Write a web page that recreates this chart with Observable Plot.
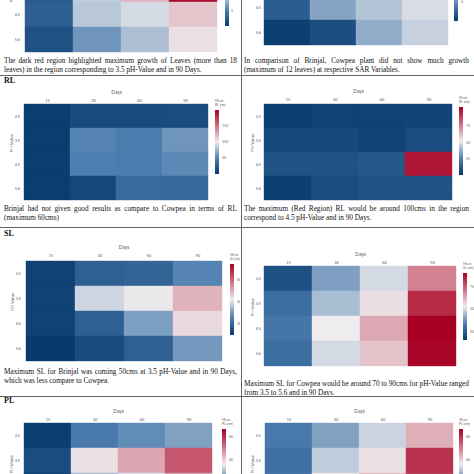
<!DOCTYPE html>
<html>
<head>
<meta charset="utf-8">
<script src="https://cdn.jsdelivr.net/npm/d3@7"></script>
<script src="https://cdn.jsdelivr.net/npm/@observablehq/plot@0.6"></script>
<style>
  body { margin: 0; background: #fff; }
  #page { position: relative; width: 474px; height: 474px; overflow: hidden; background: #fff; }
  .col { position: absolute; top: 0; height: 474px; overflow: hidden; }
  .cap { position: absolute; font-family: "Liberation Serif", "Times New Roman", serif; font-size: 7.25px; line-height: 9px; color: #111; }
  .cap .j { display: flex; justify-content: space-between; white-space: nowrap; }
  .cap .l { white-space: nowrap; }
  .head { position: absolute; font-family: "Liberation Serif", "Times New Roman", serif; font-weight: bold; font-size: 8px; line-height: 9px; color: #111; }
  .rule { position: absolute; background: #666; }
  .lg-title { position: absolute; font-family: Lato, "Open Sans", sans-serif; font-size: 3.4px; line-height: 4px; color: #666; white-space: nowrap; }
  .lg-tick { position: absolute; font-family: Lato, "Open Sans", sans-serif; font-size: 3.6px; line-height: 4px; color: #666; transform: translateY(-50%); white-space: nowrap; }
</style>
</head>
<body>
<div id="page"></div>
<script>
// Sampling days (columns) and soil pH levels (rows)
const days = ["15", "30", "60", "90"];
const phLevels = ["2.5", "3.5", "4.5", "5.6"];

// Mean number of leaves; one row per pH level, one column per day
const leavesBrinjal = [
  [2, 4, 6, 9],
  [3.2, 8.7, 12, 18.5],
  [3.4, 8.5, 9.3, 11.4],
  [2.5, 6.4, 8.1, 10.4]
];
const leavesCowpea = [
  [2, 5, 8, 10],
  [3, 6, 9, 12],
  [2.4, 4.7, 5.5, 6.1],
  [1.2, 1.8, 4.9, 5.8]
];
// Mean root length (cm)
const rlBrinjal = [
  [2, 12, 12, 13],
  [2, 52, 48, 60],
  [2, 50, 48, 54],
  [2, 10, 36, 34]
];
const rlCowpea = [
  [2, 3, 3, 4],
  [6, 6, 3, 7],
  [9.5, 9, 11.5, 100],
  [2, 7, 9, 9]
];
// Mean shoot length (cm)
const slBrinjal = [
  [12, 19, 20, 27],
  [12, 39, 42, 50],
  [12, 19, 31, 45],
  [10, 14, 19, 30]
];
const slCowpea = [
  [22, 40, 50, 69],
  [30, 45, 55, 83],
  [32, 53, 63, 90],
  [30, 50, 59, 89]
];
// Mean plant length (cm)
const plBrinjal = [
  [7, 20, 23, 26],
  [10, 38, 45, 55],
  [8, 30, 35, 45],
  [7, 20, 28, 35]
];
const plCowpea = [
  [20, 26, 33, 44],
  [18, 32, 38, 60],
  [19, 36, 42, 58],
  [17, 30, 40, 55]
];

// Colour-bar limits and labelled ticks
const leavesBrinjalRange = [1, 19], leavesBrinjalTicks = [15, 10, 5];
const leavesCowpeaRange = [1, 12], leavesCowpeaTicks = [12, 8, 4];
const rlBrinjalRange = [0, 200], rlBrinjalTicks = [150, 100, 50];
const rlCowpeaRange = [0, 105], rlCowpeaTicks = [75, 50, 25];
const slBrinjalRange = [10, 75], slBrinjalTicks = [60, 40, 20];
const slCowpeaRange = [16, 90], slCowpeaTicks = [75, 50, 25];
const plBrinjalRange = [6, 67], plBrinjalTicks = [60, 40, 20];
const plCowpeaRange = [6, 67], plCowpeaTicks = [60, 40, 20];

// Captions and section headings
const captions = {
  leavesBrinjal: ["The dark red region highlighted maximum growth of Leaves (more than 18", "leaves) in the region corresponding to 3.5 pH-Value and in 90 Days."],
  leavesCowpea: ["In comparison of Brinjal, Cowpea plant did not show much growth", "(maximum of 12 leaves) at respective SAR Variables."],
  rlBrinjal: ["Brinjal had not given good results as compare to Cowpea in terms of RL", "(maximum 60cms)"],
  rlCowpea: ["The maximum (Red Region) RL would be around 100cms in the region", "correspond to 4.5 pH-Value and in 90 Days."],
  slBrinjal: ["Maximum SL for Brinjal was coming 50cms at 3.5 pH-Value and in 90 Days,", "which was less compare to Cowpea."],
  slCowpea: ["Maximum SL for Cowpea would be around 70 to 90cms for pH-Value ranged", "from 3.5 to 5.6 and in 90 Days."]
};
const headings = ["RL", "SL", "PL"];

// Blue - white - red diverging ramp
const rampColors = ["#073a6d", "#4f7fb0", "#eeecee", "#cf6f82", "#a70022"];
const ramp = d3.piecewise(d3.interpolateRgb, rampColors);
const sans = "Lato, 'Open Sans', sans-serif";

const page = document.getElementById("page");
const cols = {
  L: {off: 0, el: makeCol(0, 240)},
  R: {off: 241, el: makeCol(241, 233)}
};

function makeCol(left, width) {
  const d = document.createElement("div");
  d.className = "col";
  d.style.left = left + "px";
  d.style.width = width + "px";
  page.appendChild(d);
  return d;
}

function heatmap(p) {
  const col = cols[p.col];
  const [x0, x1, y0, y1] = p.cell;
  const mL = 30, mT = 24, mR = 2, mB = 2;
  const rows = p.values.flatMap((row, i) => row.map((v, j) => ({ph: phLevels[i], day: days[j], value: v})));
  const svg = Plot.plot({
    width: x1 - x0 + mL + mR,
    height: y1 - y0 + mT + mB,
    marginLeft: mL, marginTop: mT, marginRight: mR, marginBottom: mB,
    style: {background: "transparent", fontFamily: sans, fontSize: "3.8px", color: "#555", overflow: "visible"},
    x: {domain: days, padding: 0, axis: "top", tickSize: 0, tickPadding: 2.2, label: null},
    y: {domain: phLevels, padding: 0, tickSize: 0, tickPadding: 3.5, label: null},
    color: {type: "linear", domain: p.range, interpolate: ramp, clamp: true},
    marks: [
      Plot.cell(rows, {x: "day", y: "ph", fill: "value", stroke: "value", strokeWidth: 0.4}),
      Plot.text(["Days"], {text: d => d, frameAnchor: "top", dy: -14, fontSize: 4.8, fill: "#555"}),
      Plot.text(["PH Value"], {text: d => d, frameAnchor: "left", dx: -12, rotate: -90, fontSize: 4.6, fill: "#555"})
    ]
  });
  svg.style.position = "absolute";
  svg.style.left = (x0 - mL - col.off) + "px";
  svg.style.top = (y0 - mT) + "px";
  svg.style.maxWidth = "none";
  col.el.appendChild(svg);

  // vertical colour bar
  const {x, w, top, bottom, labelX} = p.legend;
  const stops = d3.range(0, 1.0001, 0.1).map(t => `${ramp(t)} ${Math.round(t * 100)}%`).join(",");
  const bar = document.createElement("div");
  bar.style.cssText = `position:absolute;left:${x - col.off}px;top:${top}px;width:${w}px;height:${bottom - top}px;background:linear-gradient(to top, ${stops});`;
  col.el.appendChild(bar);
  const ys = d3.scaleLinear().domain(p.range).range([bottom, top]);
  for (const t of p.ticks) {
    const lab = document.createElement("div");
    lab.className = "lg-tick";
    lab.style.left = (labelX - col.off) + "px";
    lab.style.top = ys(t) + "px";
    lab.textContent = t;
    col.el.appendChild(lab);
  }
  const title = document.createElement("div");
  title.className = "lg-title";
  title.style.left = (x - col.off) + "px";
  title.style.top = (top - 11) + "px";
  title.innerHTML = `Mean<br>${p.unit}`;
  col.el.appendChild(title);
}

function caption(lines, colKey, x, y, width) {
  const col = cols[colKey];
  const box = document.createElement("div");
  box.className = "cap";
  box.style.left = (x - col.off) + "px";
  box.style.top = y + "px";
  box.style.width = width + "px";
  lines.forEach((line, i) => {
    const row = document.createElement("div");
    if (i < lines.length - 1) {
      row.className = "j";
      for (const word of line.split(" ")) {
        const s = document.createElement("span");
        s.textContent = word;
        row.appendChild(s);
      }
    } else {
      row.className = "l";
      row.textContent = line;
    }
    box.appendChild(row);
  });
  col.el.appendChild(box);
}

function heading(text, y) {
  const h = document.createElement("div");
  h.className = "head";
  h.style.left = "4px";
  h.style.top = y + "px";
  h.textContent = text;
  cols.L.el.appendChild(h);
}

function rule(x, y, w, h) {
  const r = document.createElement("div");
  r.className = "rule";
  r.style.cssText += `left:${x}px;top:${y}px;width:${w}px;height:${h}px;`;
  page.appendChild(r);
}

const panels = [
  {col: "L", values: leavesBrinjal, range: leavesBrinjalRange, ticks: leavesBrinjalTicks, unit: "Leaves",
   cell: [23, 218, -48, 52], legend: {x: 225, w: 3.5, top: -42, bottom: 26, labelX: 231}},
  {col: "R", values: leavesCowpea, range: leavesCowpeaRange, ticks: leavesCowpeaTicks, unit: "Leaves",
   cell: [264, 448, -55, 45], legend: {x: 454, w: 3.5, top: -47, bottom: 21, labelX: 461}},
  {col: "L", values: rlBrinjal, range: rlBrinjalRange, ticks: rlBrinjalTicks, unit: "RL (cm)",
   cell: [23, 209, 104, 200], legend: {x: 215, w: 3.5, top: 110, bottom: 174, labelX: 222}},
  {col: "R", values: rlCowpea, range: rlCowpeaRange, ticks: rlCowpeaTicks, unit: "RL (cm)",
   cell: [264, 452, 103, 200], legend: {x: 459, w: 4, top: 107, bottom: 175, labelX: 466}},
  {col: "L", values: slBrinjal, range: slBrinjalRange, ticks: slBrinjalTicks, unit: "SL (cm)",
   cell: [24, 223, 259, 362], legend: {x: 230, w: 4, top: 264, bottom: 335, labelX: 237}},
  {col: "R", values: slCowpea, range: slCowpeaRange, ticks: slCowpeaTicks, unit: "SL (cm)",
   cell: [264, 456, 266, 366], legend: {x: 463, w: 4, top: 273, bottom: 340, labelX: 470}},
  {col: "L", values: plBrinjal, range: plBrinjalRange, ticks: plBrinjalTicks, unit: "PL (cm)",
   cell: [23, 213, 423, 523], legend: {x: 222, w: 4, top: 429, bottom: 499, labelX: 229}},
  {col: "R", values: plCowpea, range: plCowpeaRange, ticks: plCowpeaTicks, unit: "PL (cm)",
   cell: [264, 454, 423, 523], legend: {x: 459, w: 4, top: 429, bottom: 499, labelX: 466}}
];
panels.forEach(heatmap);

caption(captions.leavesBrinjal, "L", 4, 56.5, 233);
caption(captions.leavesCowpea, "R", 244, 57, 225);
caption(captions.rlBrinjal, "L", 4, 204.5, 233);
caption(captions.rlCowpea, "R", 244, 204.5, 225);
caption(captions.slBrinjal, "L", 4, 367.5, 233);
caption(captions.slCowpea, "R", 244, 379.5, 225);

heading(headings[0], 75.5);
heading(headings[1], 228.5);
heading(headings[2], 395.5);

// table rules
rule(0, 75, 474, 1);
rule(0, 226.5, 474, 1.3);
rule(0, 396, 474, 1);
rule(241, 0, 1, 474);
</script>
</body>
</html>
